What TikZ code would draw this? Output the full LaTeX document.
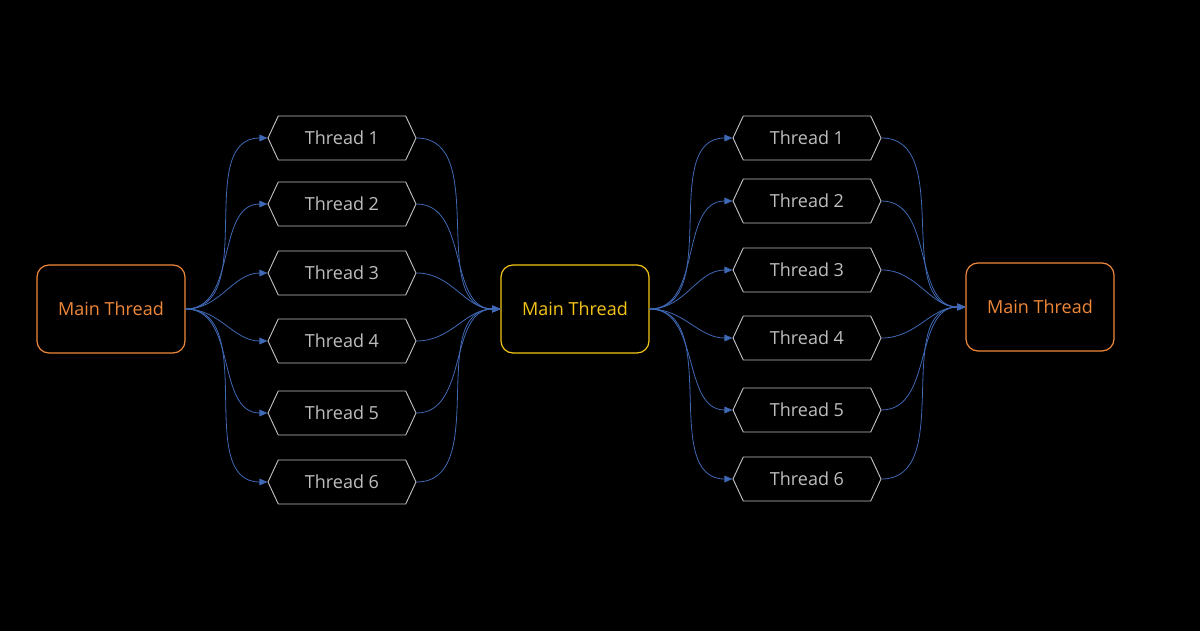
\documentclass[tikz,border=0pt]{standalone}
\usepackage{fontspec}
\setmainfont{Open Sans}
\usetikzlibrary{shapes.symbols,arrows.meta}
\definecolor{mainor}{HTML}{F0883A}
\definecolor{mainyl}{HTML}{F5C518}
\definecolor{edge}{HTML}{3F68B5}
\definecolor{txt}{HTML}{BFBFBF}
\begin{document}
\begin{tikzpicture}[x=0.75pt,y=-0.75pt,
  main/.style={draw,rounded corners=9pt,minimum width=111pt,minimum height=66pt,line width=0.9pt,font=\fontsize{13.5}{15}\selectfont},
  hex/.style={draw=txt,text=txt,signal,signal to=east and west,signal pointer angle=130,minimum width=111pt,minimum height=33pt,inner xsep=2pt,line width=0.7pt,font=\fontsize{13.5}{15}\selectfont},
  con/.style={draw=edge,line width=0.6pt,-{Triangle[length=6pt,width=5pt]},out=0,in=180}]
\fill[black] (0,0) rectangle (1200,631);
\useasboundingbox (0,0) rectangle (1200,631);
\node[main,draw=mainor,text=mainor] (m1) at (111,309) {Main Thread};
\node[main,draw=mainyl,text=mainyl] (m2) at (575,309) {Main Thread};
\node[main,draw=mainor,text=mainor] (m3) at (1040,307) {Main Thread};
\foreach \i/\y in {1/138,2/204,3/273,4/341,5/413,6/482}{
  \node[hex] (a\i) at (342,\y) {Thread \i};
  \draw[con] (m1.east) to (a\i.west);
  \draw[con] (a\i.east) to (m2.west);
}
\foreach \i/\y in {1/138,2/201,3/270,4/338,5/410,6/479}{
  \node[hex] (b\i) at (807,\y) {Thread \i};
  \draw[con] (m2.east) to (b\i.west);
  \draw[con] (b\i.east) to (m3.west);
}
\end{tikzpicture}
\end{document}
